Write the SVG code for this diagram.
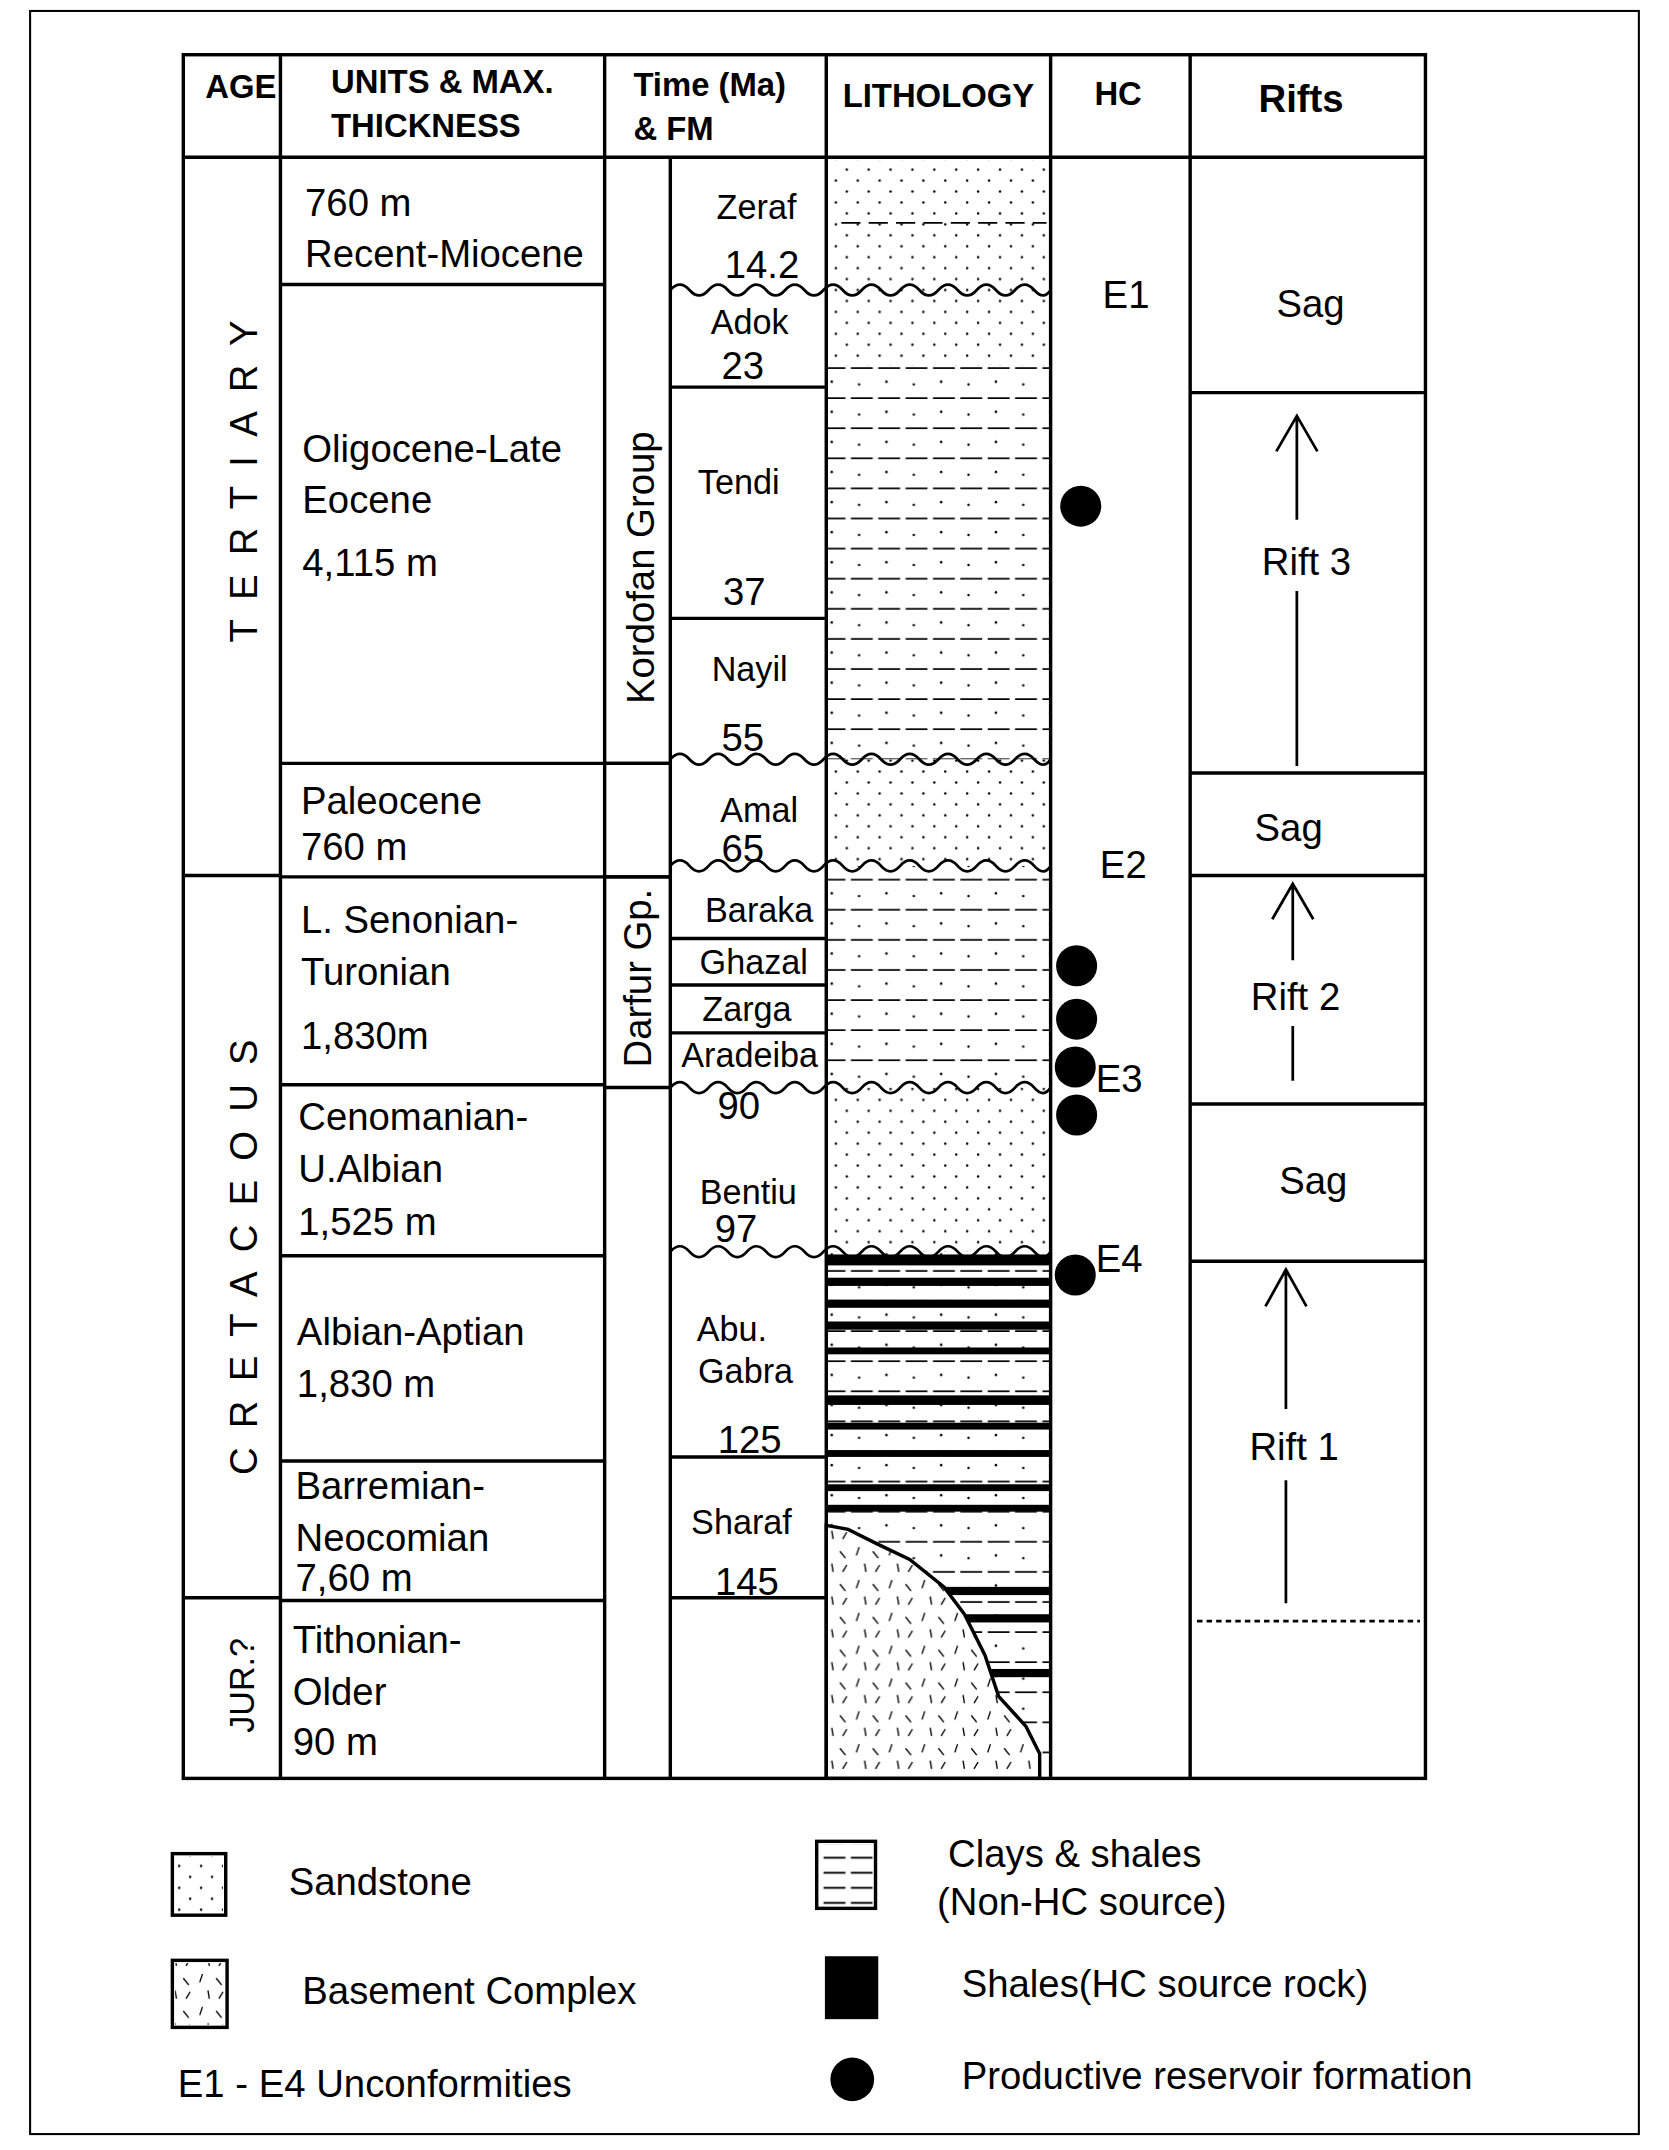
<svg xmlns="http://www.w3.org/2000/svg" width="1669" height="2150" viewBox="0 0 1669 2150">
<style>
text{font-family:"Liberation Sans",Arial,sans-serif;fill:#000}
.h{font-weight:bold;font-size:24px}
.t{font-size:28px}
.s{font-size:25px}
.ln{stroke:#000;stroke-width:2.5;fill:none}
.th{stroke:#000;stroke-width:1.5;fill:none}
.w{stroke:#000;stroke-width:2;fill:none}
</style>
<defs>
<pattern id="sand" width="16" height="16" patternUnits="userSpaceOnUse"><circle cx="3" cy="4" r="0.9"/><circle cx="11" cy="12" r="0.9"/></pattern>
<pattern id="shale" width="40" height="11" patternUnits="userSpaceOnUse"><path d="M2 5h16M22 5h16" stroke="#000" stroke-width="1.3"/></pattern>
<pattern id="mix" width="40" height="22" patternUnits="userSpaceOnUse"><path d="M2 5h16M22 5h16" stroke="#000" stroke-width="1.3"/><circle cx="8" cy="15" r="0.9"/><circle cx="28" cy="17" r="0.9"/></pattern>
<pattern id="base" width="24" height="24" patternUnits="userSpaceOnUse"><path d="M4 3l-2 6M14 6l4 5M8 15l1 6M19 16l-3 5" stroke="#000" stroke-width="1"/></pattern>
<path id="wv" d="M0 0q7-8 14 0t14 0t14 0t14 0t14 0t14 0t14 0t14 0t14 0t14 0t14 0t14 0t14 0t14 0t14 0t14 0t14 0t14 0t14 0t12 0" class="w"/>
</defs>
<g transform="scale(1.368)">
<rect x="22" y="8" width="1176" height="1552" class="th"/>
<g id="patterns">
<rect x="604" y="117" width="164" height="95" fill="url(#sand)"/>
<path d="M615 163h150" stroke="#000" stroke-dasharray="14 6" stroke-width="1.3"/>
<rect x="604" y="212" width="164" height="55" fill="url(#sand)"/>
<rect x="604" y="267" width="164" height="288" fill="url(#mix)"/>
<rect x="604" y="555" width="164" height="78" fill="url(#sand)"/>
<rect x="604" y="633" width="164" height="162" fill="url(#mix)"/>
<rect x="604" y="795" width="164" height="120" fill="url(#sand)"/>
<rect x="604" y="915" width="164" height="385" fill="url(#mix)"/>
<g fill="#000"><rect x="604" y="917" width="164" height="8"/><rect x="604" y="934" width="164" height="6"/><rect x="604" y="950" width="164" height="6"/><rect x="604" y="966" width="164" height="6"/><rect x="604" y="985" width="164" height="5"/><rect x="604" y="1020" width="164" height="7"/><rect x="604" y="1040" width="164" height="5"/><rect x="604" y="1060" width="164" height="5"/><rect x="604" y="1085" width="164" height="5"/><rect x="604" y="1100" width="164" height="5"/><rect x="604" y="1160" width="164" height="6"/><rect x="604" y="1180" width="164" height="6"/><rect x="604" y="1220" width="164" height="6"/></g>
<path d="M604 1115L620 1118L640 1128L665 1140L690 1160L705 1180L720 1210L730 1240L750 1262L760 1282L760 1300L604 1300Z" fill="#fff" stroke="#000" stroke-width="2.5"/>
<path d="M604 1115L620 1118L640 1128L665 1140L690 1160L705 1180L720 1210L730 1240L750 1262L760 1282L760 1300L604 1300Z" fill="url(#base)"/>
</g>
<g id="grid">
<rect x="134" y="40" width="908" height="1260" class="ln"/>
<path d="M134 115H1042M205 40V1300M442 40V1300M604 40V1300M768 40V1300M870 40V1300M490 115V1300" class="ln"/>
<path d="M134 640H205M134 1168H205" class="ln"/>
<path d="M205 208H442M205 558H490M205 641H490M205 793H442M205 918H442M205 1068H442M205 1170H442" class="ln"/>
<path d="M442 558H490M442 641H490M442 795H490" class="ln"/>
<path d="M490 283H604M490 452H604M490 686H604M490 720H604M490 755H604M490 1065H604M490 1168H604" class="ln"/>
<path d="M870 287H1042M870 565H1042M870 640H1042M870 807H1042M870 922H1042" class="ln"/>
<path d="M875 1185H1038" stroke="#000" stroke-width="2" stroke-dasharray="4 3"/>
<use href="#wv" x="490" y="212"/><use href="#wv" x="490" y="555"/><use href="#wv" x="490" y="633"/><use href="#wv" x="490" y="795"/><use href="#wv" x="490" y="915"/>
</g>
<g id="header">
<text class="h" x="150" y="72">AGE</text>
<text class="h" x="242" y="68">UNITS &amp; MAX.</text><text class="h" x="242" y="100">THICKNESS</text>
<text class="h" x="463" y="70">Time (Ma)</text><text class="h" x="463" y="102">&amp; FM</text>
<text class="h" x="616" y="78">LITHOLOGY</text>
<text class="h" x="800" y="77">HC</text>
<text class="h" x="920" y="82" style="font-size:28px">Rifts</text>
</g>
<g id="age">
<text class="t" transform="translate(188,345) rotate(-90)" text-anchor="middle" letter-spacing="14">TERTIARY</text>
<text class="t" transform="translate(188,912) rotate(-90)" text-anchor="middle" letter-spacing="14">CRETACEOUS</text>
<text class="s" transform="translate(186,1232) rotate(-90)" text-anchor="middle">JUR.?</text>
<text class="t" transform="translate(478,415) rotate(-90)" text-anchor="middle">Kordofan Group</text>
<text class="t" transform="translate(476,715) rotate(-90)" text-anchor="middle">Darfur Gp.</text>
</g>
<g id="units">
<text class="t" x="223" y="158">760 m</text><text class="t" x="223" y="195">Recent-Miocene</text>
<text class="t" x="221" y="338">Oligocene-Late</text><text class="t" x="221" y="375">Eocene</text><text class="t" x="221" y="421">4,115 m</text>
<text class="t" x="220" y="595">Paleocene</text><text class="t" x="220" y="629">760 m</text>
<text class="t" x="220" y="682">L. Senonian-</text><text class="t" x="220" y="720">Turonian</text><text class="t" x="220" y="767">1,830m</text>
<text class="t" x="218" y="826">Cenomanian-</text><text class="t" x="218" y="864">U.Albian</text><text class="t" x="218" y="903">1,525 m</text>
<text class="t" x="217" y="983">Albian-Aptian</text><text class="t" x="217" y="1021">1,830 m</text>
<text class="t" x="216" y="1096">Barremian-</text><text class="t" x="216" y="1134">Neocomian</text><text class="t" x="216" y="1163">7,60 m</text>
<text class="t" x="214" y="1208">Tithonian-</text><text class="t" x="214" y="1246">Older</text><text class="t" x="214" y="1283">90 m</text>
</g>
<g id="fm" text-anchor="middle">
<text class="s" x="553" y="160">Zeraf</text><text class="t" x="557" y="203">14.2</text>
<text class="s" x="548" y="244">Adok</text><text class="t" x="543" y="277">23</text>
<text class="s" x="540" y="361">Tendi</text><text class="t" x="544" y="442">37</text>
<text class="s" x="548" y="498">Nayil</text><text class="t" x="543" y="549">55</text>
<text class="s" x="555" y="601">Amal</text><text class="t" x="543" y="630">65</text>
<text class="s" x="555" y="674">Baraka</text>
<text class="s" x="551" y="712">Ghazal</text>
<text class="s" x="546" y="746">Zarga</text>
<text class="s" x="548" y="780">Aradeiba</text>
<text class="t" x="540" y="818">90</text>
<text class="s" x="547" y="880">Bentiu</text><text class="t" x="538" y="908">97</text>
<text class="s" x="535" y="980">Abu.</text><text class="s" x="545" y="1011">Gabra</text>
<text class="t" x="548" y="1062">125</text>
<text class="s" x="542" y="1121">Sharaf</text><text class="t" x="546" y="1166">145</text>
</g>
<g id="hc">
<text class="t" x="806" y="225">E1</text><text class="t" x="804" y="642">E2</text><text class="t" x="801" y="798">E3</text><text class="t" x="801" y="930">E4</text>
<circle cx="790" cy="370" r="15"/><circle cx="787" cy="706" r="15"/><circle cx="787" cy="745" r="15"/><circle cx="786" cy="780" r="15"/><circle cx="787" cy="815" r="15"/><circle cx="786" cy="932" r="15"/>
</g>
<g id="rifts">
<text class="t" x="958" y="232" text-anchor="middle">Sag</text>
<text class="t" x="955" y="420" text-anchor="middle">Rift 3</text>
<text class="t" x="942" y="615" text-anchor="middle">Sag</text>
<text class="t" x="947" y="738" text-anchor="middle">Rift 2</text>
<text class="t" x="960" y="873" text-anchor="middle">Sag</text>
<text class="t" x="946" y="1067" text-anchor="middle">Rift 1</text>
<path d="M933 330L948 304L963 330M948 304V380M948 432V560" class="w"/>
<path d="M930 672L945 646L960 672M945 646V702M945 750V790" class="w"/>
<path d="M925 955L940 928L955 955M940 928V1030M940 1082V1172" class="w"/>
</g>
<g id="legend">
<rect x="126" y="1355" width="39" height="45" class="ln"/><rect x="128" y="1357" width="35" height="41" fill="url(#sand)"/>
<text class="t" x="211" y="1385">Sandstone</text>
<rect x="126" y="1433" width="40" height="49" class="ln"/><rect x="128" y="1435" width="36" height="45" fill="url(#base)"/>
<text class="t" x="221" y="1465">Basement Complex</text>
<text class="t" x="130" y="1533">E1 - E4  Unconformities</text>
<rect x="597" y="1346" width="43" height="49" class="ln"/><rect x="599" y="1348" width="39" height="45" fill="url(#shale)"/>
<text class="t" x="693" y="1365">Clays &amp; shales</text><text class="t" x="685" y="1400">(Non-HC source)</text>
<rect x="603" y="1430" width="39" height="46"/>
<text class="t" x="703" y="1460">Shales(HC source rock)</text>
<circle cx="623" cy="1520" r="16"/>
<text class="t" x="703" y="1527">Productive reservoir formation</text>
</g>
</g>
</svg>
